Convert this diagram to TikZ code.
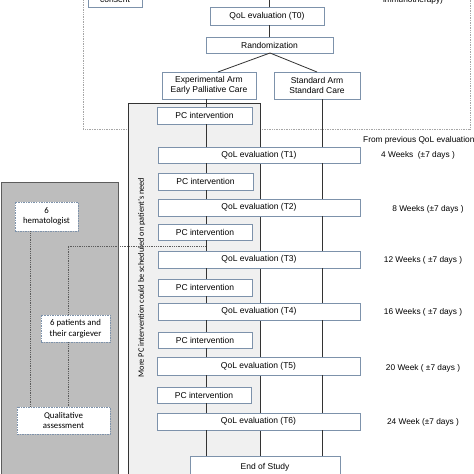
\documentclass[tikz,border=0pt]{standalone}
\usepackage{fontspec}
\setmainfont{Liberation Sans}
\newfontfamily\carl{Carlito}
\begin{document}
\begin{tikzpicture}[x=1pt,y=-1pt,
  boxc/.style={draw=bordc, fill=white, line width=0.8pt, inner sep=0pt, font=\fontsize{8.5}{10}\selectfont, align=center},
  lbox/.style={draw=bordc, fill=white, line width=0.7pt, dash pattern=on 1.5pt off 1pt, inner sep=0pt, font=\carl\fontsize{8.8}{10.5}\selectfont, align=center},
  conn/.style={draw=linec, line width=0.8pt},
  dotc/.style={draw=linec!80, line width=0.7pt, dash pattern=on 1pt off 0.8pt},
  lab/.style={font=\fontsize{8.3}{10}\selectfont, inner sep=0pt}
]
\definecolor{bordc}{HTML}{7D92AB}
\definecolor{linec}{HTML}{333333}
\useasboundingbox (0,0) rectangle (474,474);
\fill[white] (0,0) rectangle (474,474);

% outer dashed frame (top part)
\draw[gray!70, line width=0.6pt, dash pattern=on 1pt off 0.7pt] (83,-10) -- (83,129) -- (470,129) -- (470,-10);

% shaded region of experimental arm
\draw[fill=gray!12, draw=linec, line width=0.8pt] (128,480) -- (128,103) -- (260,103) -- (260,480);

% left panel
\draw[fill=gray!52, draw=linec!80, line width=0.8pt] (1,480) -- (1,182) -- (118,182) -- (118,480);

% vertical note
\node[rotate=90, font=\carl\fontsize{8.3}{10}\selectfont, inner sep=0pt] (note) at (141.5,277.5) {More PC intervention could be scheduled on patient’s need};

% coordinates for lines
\coordinate (ex) at (206,0);
\coordinate (sx) at (322,0);
\coordinate (tx) at (269,0);
\coordinate (topT) at (269,-10);

% top boxes
\node[boxc, minimum width=54pt, minimum height=30pt] (consent) at (115,-8) {};
\node[lab, font=\fontsize{8.5}{10}\selectfont] (consenttxt) at (115,0) {consent};
\node[lab] (immuno) at (413,0) {immunotherapy)};
\node[boxc, minimum width=114pt, minimum height=18pt] (t0) at (267,16) {QoL evaluation (T0)};
\node[boxc, minimum width=127pt, minimum height=16pt] (rand) at (269.5,45) {Randomization};
\node[boxc, minimum width=94pt, minimum height=27pt] (exp) at (209,85.5) {Experimental Arm\\Early Palliative Care};
\node[boxc, minimum width=86pt, minimum height=27pt] (std) at (317,85.5) {Standard Arm\\Standard Care};

% main boxes
\node[boxc, minimum width=95pt, minimum height=17pt] (pc1) at (204.5,115.5) {PC intervention};
\node[boxc, minimum width=202pt, minimum height=16pt] (q1) at (259,155) {QoL evaluation (T1)};
\node[boxc, minimum width=95pt, minimum height=17pt] (pc2) at (205.5,181.5) {PC intervention};
\node[boxc, minimum width=202pt, minimum height=17pt] (q2) at (259,207.5) {QoL evaluation (T2)};
\node[boxc, minimum width=94pt, minimum height=16pt] (pc3) at (205,232) {PC intervention};
\node[boxc, minimum width=202pt, minimum height=17pt] (q3) at (259,259.5) {QoL evaluation (T3)};
\node[boxc, minimum width=94pt, minimum height=17pt] (pc4) at (205,287.5) {PC intervention};
\node[boxc, minimum width=202pt, minimum height=17pt] (q4) at (259,311.5) {QoL evaluation (T4)};
\node[boxc, minimum width=94pt, minimum height=16pt] (pc5) at (205,340) {PC intervention};
\node[boxc, minimum width=203pt, minimum height=18pt] (q5) at (258.5,366) {QoL evaluation (T5)};
\node[boxc, minimum width=94pt, minimum height=16pt] (pc6) at (204,395) {PC intervention};
\node[boxc, minimum width=203pt, minimum height=17pt] (q6) at (258.5,421.5) {QoL evaluation (T6)};
\node[boxc, minimum width=150pt, minimum height=24pt] (end) at (265,468) {\raisebox{4pt}{End of Study}};

% connectors top
\draw[conn] (topT) -- (t0.north -| tx);
\draw[conn] (t0.south -| tx) -- (rand.north -| tx);
\coordinate (rs) at (270,53);
\coordinate (ea) at (218,72);
\coordinate (sa) at (317,72);
\draw[conn] (rs) -- (ea);
\draw[conn] (rs) -- (sa);

% experimental line
\foreach \a/\b in {exp/pc1,pc1/q1,q1/pc2,pc2/q2,q2/pc3,pc3/q3,q3/pc4,pc4/q4,q4/pc5,pc5/q5,q5/pc6,pc6/q6,q6/end}
  \draw[conn] (\a.south -| ex) -- (\b.north -| ex);
% standard line
\foreach \a/\b in {std/q1,q1/q2,q2/q3,q3/q4,q4/q5,q5/q6,q6/end}
  \draw[conn] (\a.south -| sx) -- (\b.north -| sx);

% left panel boxes
\node[lbox, minimum width=63pt, minimum height=29pt] (hema) at (46.5,216.5) {6\\hematologist};
\node[lbox, minimum width=69pt, minimum height=27pt] (pat) at (75.5,328.5) {6 patients and\\their cargiever};
\node[lbox, minimum width=93pt, minimum height=27pt] (qual) at (63.5,420.5) {Qualitative\\assessment};

\coordinate (hx) at (30,0);
\coordinate (px) at (68,0);
\coordinate (bend) at (68,246);
\coordinate (join) at (206,246);
\draw[dotc] (hema.south -| hx) -- (qual.north -| hx);
\draw[dotc] (pat.south -| px) -- (qual.north -| px);
\draw[dotc] (pat.north -| px) -- (bend) -- (join);

% right labels
\node[lab, anchor=west] (from) at (363,140) {From previous QoL evaluation};
\node[lab] (w4) at (418,155) {4 Weeks\ \ (±7 days )};
\node[lab] (w8) at (428,209) {8 Weeks (±7 days )};
\node[lab] (w12) at (423,260) {12 Weeks ( ±7 days )};
\node[lab] (w16) at (423,312) {16 Weeks ( ±7 days )};
\node[lab] (w20) at (423,368) {20 Week ( ±7 days )};
\node[lab] (w24) at (423,422) {24 Week (±7 days )};
\end{tikzpicture}
\end{document}
